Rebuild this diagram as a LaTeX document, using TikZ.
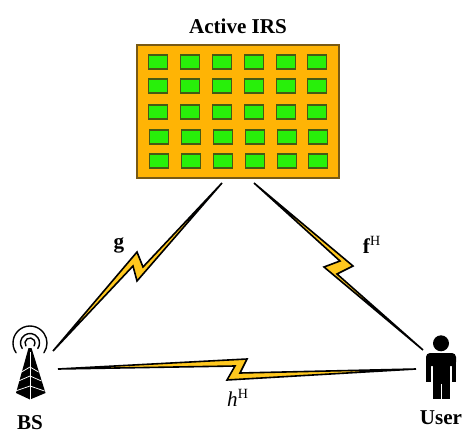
\documentclass[tikz,border=0pt]{standalone}
\usepackage{fontspec}
\setmainfont{Liberation Serif}
\usetikzlibrary{positioning}
\definecolor{irsAmber}{RGB}{255,180,5}
\definecolor{irsEdge}{RGB}{120,90,20}
\definecolor{cellGreen}{RGB}{40,240,10}
\definecolor{cellEdge}{RGB}{70,90,20}
\definecolor{boltYellow}{RGB}{255,200,30}
\tikzset{
  irsbox/.style={draw=irsEdge, fill=irsAmber, line width=0.25mm, minimum width=40.4mm, minimum height=26.6mm, inner sep=0pt},
  cellbox/.style={draw=cellEdge, fill=cellGreen, line width=0.3mm, minimum width=3.8mm, minimum height=2.8mm, inner sep=0pt},
  boltline/.style={draw=black, fill=boltYellow, line width=0.32mm, line join=miter, miter limit=6},
  lab/.style={font=\fontsize{12}{14}\selectfont, inner sep=0pt},
  boldlab/.style={lab, font=\fontsize{12}{14}\selectfont\bfseries},
  wave/.style={draw=black, line width=0.28mm, line cap=round}
}
\begin{document}
\begin{tikzpicture}[x=0.2mm, y=-0.2mm]
    \useasboundingbox (0,0) rectangle (474,441);
    % --- Active IRS panel ---
    \node[irsbox] (irs) at (238,111.5) {};
    \node[boldlab] (irslabel) at (238,26) {Active IRS};
    \foreach \r/\y/\dx in {1/62/0, 2/86/0, 3/112/0, 4/137/1, 5/161/1}
      \foreach \c/\x in {1/158, 2/190, 3/222, 4/254, 5/286, 6/317}
        \node[cellbox] (cell-\r-\c) at (\x+\dx,\y) {};
    % --- links ---
    \coordinate (gTop) at (222,183);
    \coordinate (gEnd) at (53,351);
    \coordinate (fTop) at (254,183);
    \coordinate (fEnd) at (423,350);
    \coordinate (hLeft) at (58,369);
    \coordinate (hRight) at (416,369);
    \draw[boltline] (gEnd) -- (137,252) -- (143,267) -- (gTop) -- (137,281) -- (133,266) -- cycle;
    \draw[boltline] (fTop) -- (353,266) -- (337,274) -- (fEnd) -- (324,267) -- (340,261) -- cycle;
    \draw[boltline] (hLeft) -- (247,359) -- (240,373) -- (hRight) -- (227,380) -- (235,366) -- cycle;
    \node[boldlab] (glabel) at (119,245) {g};
    \node[lab] (flabel) at (372,245) {\textbf{f}\textsuperscript{H}};
    \node[lab] (hlabel) at (238,398) {\textit{h}\textsuperscript{H}};
    % --- BS: tower and waves ---
    \coordinate (bs) at (30,343);
    \fill[black] (28.5,348) -- (31.5,348) -- (45.5,393) -- (30,399.5) -- (16,393) -- cycle;
    \draw[white, line width=0.15mm] (30,352) -- (30,400);
    \foreach \yy/\ww in {367/8.5, 376/11.5, 386/14.5}
      \draw[white, line width=0.15mm] (30-\ww,\yy+5) -- (30,\yy) -- (30+\ww,\yy+5);
    \draw[wave] (bs) ++(215:1mm) arc[start angle=215, end angle=-35, radius=1mm];
    \draw[wave] (bs) ++(215:1.9mm) arc[start angle=215, end angle=-35, radius=1.9mm];
    \draw[wave] (bs) ++(215:3.4mm) arc[start angle=215, end angle=-35, radius=3.4mm];
    \node[boldlab] (bslabel) at (30,422.5) {BS};
    % --- User: figure ---
    \fill[black] (441,343.3) circle (1.6mm);
    \fill[black, rounded corners=0.8mm] (426,366) -- (426,353) -- (456,353) -- (456,366) -- cycle;
    \fill[black] (426,360) rectangle (430.5,382);
    \fill[black] (451.5,360) rectangle (456,382);
    \fill[black] (430,360) rectangle (452,365);
    \fill[black] (432.5,365) rectangle (449.5,399);
    \draw[white, line width=0.2mm] (441,384) -- (441,400);
    \node[boldlab] (userlabel) at (441,418) {User};
\end{tikzpicture}
\end{document}
